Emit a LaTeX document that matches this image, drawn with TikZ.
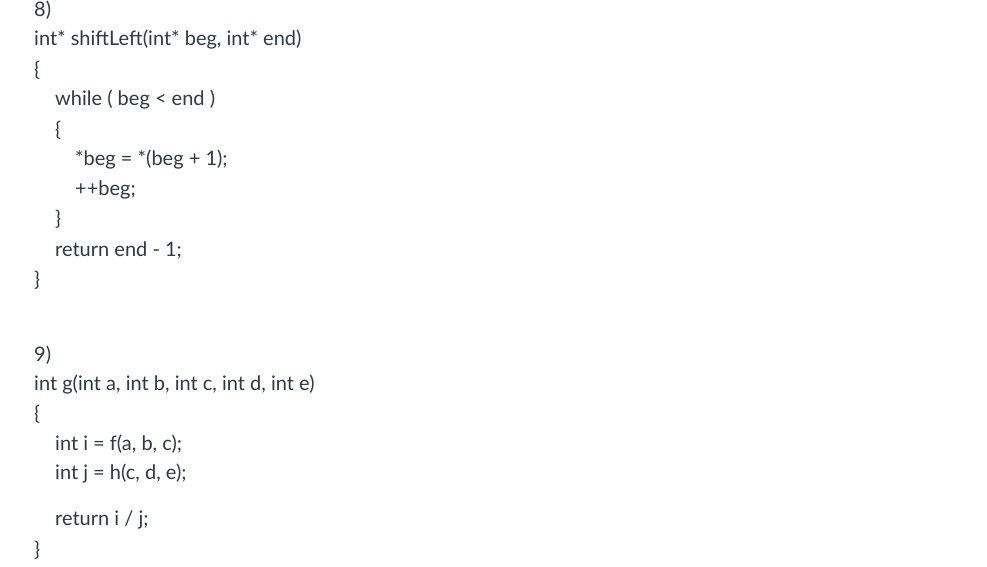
\documentclass[tikz,border=0pt]{standalone}
\usepackage{fontspec}
\setmainfont{Lato}
\definecolor{txt}{HTML}{2D3B45}
\begin{document}
\begin{tikzpicture}[x=1pt,y=-1pt,code/.style={anchor=west,inner sep=0pt,text=txt,font=\fontsize{20}{22}\selectfont}]
\useasboundingbox[fill=white] (0,0) rectangle (987,567);
\node[code] (a1) at (34,10) {8)};
\node[code] (a2) at (34,40) {int* shiftLeft(int* beg, int* end)};
\node[code] (a3) at (34,70) {\{};
\node[code] (a4) at (55,100) {while ( beg < end )};
\node[code] (a5) at (55,130) {\{};
\node[code] (a6) at (75,160) {*beg = *(beg + 1);};
\node[code] (a7) at (75,190) {++beg;};
\node[code] (a8) at (55,219) {\}};
\node[code] (a9) at (55,250) {return end - 1;};
\node[code] (a10) at (34,280) {\}};
\node[code] (b1) at (34,355) {9)};
\node[code] (b2) at (34,385) {int g(int a, int b, int c, int d, int e)};
\node[code] (b3) at (34,414) {\{};
\node[code] (b4) at (55,444) {int i = f(a, b, c);};
\node[code] (b5) at (55,474) {int j = h(c, d, e);};
\node[code] (b6) at (55,520) {return i / j;};
\node[code] (b7) at (34,550) {\}};
\end{tikzpicture}
\end{document}
